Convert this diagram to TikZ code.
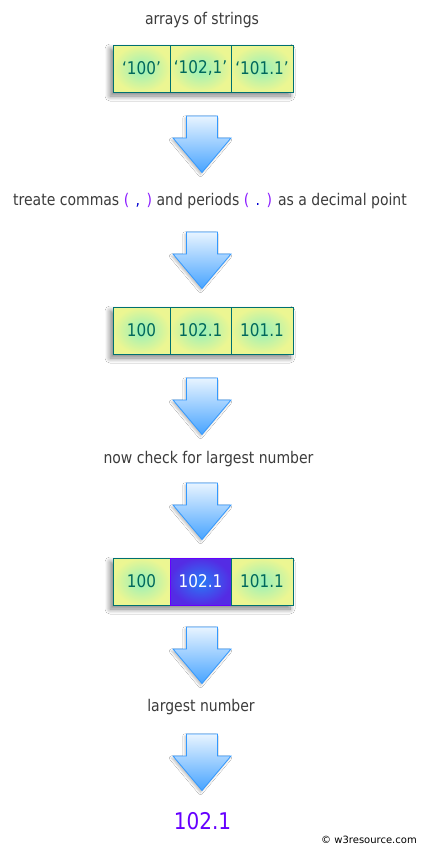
\documentclass[tikz,border=0pt]{standalone}
\usepackage{fontspec}
\setmainfont{DejaVu Sans}[FakeStretch=0.87]
\newfontfamily\logofont{DejaVu Sans}
\usetikzlibrary{shadows.blur}
\definecolor{txtgray}{RGB}{60,60,60}
\definecolor{celltxt}{RGB}{0,104,92}
\definecolor{cellborder}{RGB}{0,112,112}
\definecolor{cellin}{RGB}{150,240,186}
\definecolor{cellout}{RGB}{236,246,146}
\definecolor{hiin}{RGB}{40,124,246}
\definecolor{hiout}{RGB}{84,44,228}
\definecolor{hiborder}{RGB}{100,0,255}
\definecolor{arrtop}{RGB}{232,244,255}
\definecolor{arrbot}{RGB}{72,164,255}
\definecolor{arrborder}{RGB}{51,153,255}
\definecolor{parcol}{RGB}{140,30,255}
\definecolor{dotcol}{RGB}{0,0,210}
\definecolor{result}{RGB}{102,0,255}
\newcommand{\parsym}[1]{\textcolor{parcol}{(}\hspace{6.5pt}\textcolor{dotcol}{#1}\hspace{6.5pt}\textcolor{parcol}{)}}
\begin{document}
\begin{tikzpicture}[x=1pt,y=-1pt,
  lbl/.style={text=txtgray,font=\fontsize{16.1}{19}\selectfont,inner sep=0pt,anchor=center},
  cell/.style={draw=cellborder,line width=0.9pt,inner color=cellin,outer color=cellout,
    minimum height=47pt,inner sep=0pt,text=celltxt,font=\fontsize{17.5}{20}\selectfont},
  hicell/.style={cell,draw=hiborder,inner color=hiin,outer color=hiout,text=white},
  rowshadow/.style={fill=white,draw=none,blur shadow={shadow xshift=-3pt,shadow yshift=-4pt,shadow blur radius=5pt,shadow blur steps=12,shadow opacity=50}},
  downarrow/.pic={
    \path[draw=arrborder,line width=0.8pt,top color=arrtop,bottom color=arrbot,
      blur shadow={shadow xshift=-1.5pt,shadow yshift=-2pt,shadow opacity=25,shadow blur steps=4}]
      (-15.5,0) -- (15.5,0) -- (15.5,22) -- (29,22) -- (0,56.5) -- (-29,22) -- (-15.5,22) -- cycle;
  }]
\useasboundingbox (0,0) rectangle (424,857);
\fill[white] (0,0) rectangle (424,857);

% title
\node[lbl] (t1) at (202,20) {arrays of strings};

% row 1
\path[rowshadow] (113,45) rectangle (293,92);
\node[cell,minimum width=57pt] (a1) at (141.5,68.5) {‘100’};
\node[cell,minimum width=61pt] (a2) at (200.5,68.5) {‘102,1’};
\node[cell,minimum width=62pt] (a3) at (262,68.5) {‘101.1’};

\pic at (202,116) {downarrow};

\node[lbl] (t2) at (210,201) {treate commas \parsym{,} and periods \parsym{.} as a decimal point};

\pic at (202,232) {downarrow};

% row 2
\path[rowshadow] (113,307) rectangle (293,354);
\node[cell,minimum width=57pt] (b1) at (141.5,330.5) {100};
\node[cell,minimum width=61pt] (b2) at (200.5,330.5) {102.1};
\node[cell,minimum width=62pt] (b3) at (262,330.5) {101.1};

\pic at (202,378) {downarrow};

\node[lbl] (t3) at (208.5,459) {now check for largest number};

\pic at (202,483) {downarrow};

% row 3
\path[rowshadow] (113,558) rectangle (293,605);
\node[cell,minimum width=57pt] (c1) at (141.5,581.5) {100};
\node[hicell,minimum width=61pt] (c2) at (200.5,581.5) {102.1};
\node[cell,minimum width=62pt] (c3) at (262,581.5) {101.1};

\pic at (202,627) {downarrow};

\node[lbl] (t4) at (201,707) {largest number};

\pic at (202,734) {downarrow};

\node[text=result,font=\fontsize{23}{26}\selectfont,inner sep=0pt] (res) at (202.5,821) {102.1};

\node[font=\logofont\fontsize{10}{12}\selectfont,text=black,inner sep=0pt] (logo) at (369,840) {© w3resource.com};
\end{tikzpicture}
\end{document}
